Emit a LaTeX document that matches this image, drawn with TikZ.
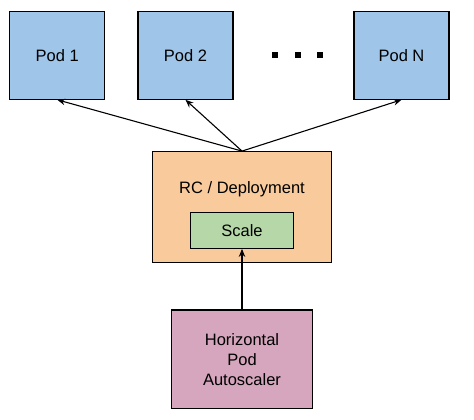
\documentclass[tikz,border=0pt]{standalone}
\usepackage{fontspec}
\setmainfont{Liberation Sans}
\usetikzlibrary{arrows.meta}
\definecolor{podblue}{HTML}{9FC5E8}
\definecolor{rcorange}{HTML}{F9CB9C}
\definecolor{scalegreen}{HTML}{B6D7A8}
\definecolor{hpapink}{HTML}{D5A6BD}
\tikzset{
  box/.style={draw=black, line width=1.2pt, inner sep=0pt, font=\fontsize{16.5}{19.5}\selectfont, align=center},
  podbox/.style={box, fill=podblue, minimum width=95pt, minimum height=88pt},
  conn/.style={line width=1.1pt, -{Stealth[length=8pt,width=6.5pt]}},
  dotsq/.style={fill=black, minimum size=6pt, inner sep=0pt}
}
\begin{document}
\begin{tikzpicture}[x=1pt,y=-1pt]
\useasboundingbox[fill=white] (0,0) rectangle (474,420);
\node[podbox] (p1) at (57.3,55.2) {Pod 1};
\node[podbox] (p2) at (185.5,55.2) {Pod 2};
\node[podbox] (pn) at (401.5,55.2) {Pod N};
\node[dotsq] (d1) at (275,55) {};
\node[dotsq] (d2) at (297.5,55) {};
\node[dotsq] (d3) at (320,55) {};
\node[box, fill=rcorange, minimum width=179pt, minimum height=110.6pt] (rc) at (242,207) {};
\node[font=\fontsize{16.5}{19.5}\selectfont] (rct) at (242,189) {RC / Deployment};
\node[box, fill=scalegreen, minimum width=102.6pt, minimum height=35.6pt] (sc) at (242,230.5) {Scale};
\node[box, fill=hpapink, minimum width=140.6pt, minimum height=98.3pt, font=\fontsize{16.5}{20}\selectfont] (hpa) at (242,359.2) {Horizontal\\Pod\\Autoscaler};
\draw[conn] (rc.north) -- (p1.south);
\draw[conn] (rc.north) -- (p2.south);
\draw[conn] (rc.north) -- (pn.south);
\draw[conn] (hpa.north) -- (sc.south);
\end{tikzpicture}
\end{document}
